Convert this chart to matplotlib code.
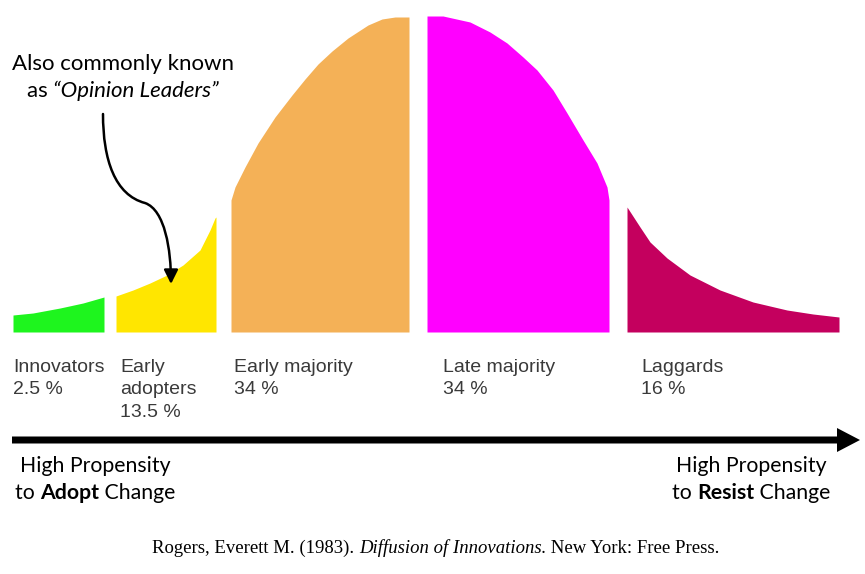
import matplotlib
matplotlib.use("Agg")
import matplotlib.pyplot as plt
from matplotlib.path import Path
from matplotlib.patches import FancyArrowPatch

# Adopter categories (Rogers' diffusion of innovations)
CATEGORIES = [["Innovators"], ["Early", "adopters"], ["Early majority"],
              ["Late majority"], ["Laggards"]]
SHARES = ["2.5 %", "13.5 %", "34 %", "34 %", "16 %"]
COLORS = ["#1EF51E", "#FFE600", "#F4B157", "#FF00FF", "#C4005E"]

# outline of each segment of the bell curve: position along axis, curve height
GREEN_X = [13, 33, 60, 83, 104]
GREEN_H = [17, 19, 24, 29, 35]
YELLOW_X = [116, 133, 150, 167, 183, 200, 210, 215, 216]
YELLOW_H = [36, 42, 49, 57, 67, 82, 102, 114, 115]
ORANGE_X = [231, 235, 245, 258, 275, 292, 305, 318, 332, 348, 368, 382, 395, 409]
ORANGE_H = [132, 145, 165, 189, 215, 237, 253, 268, 281, 294, 307, 313, 315, 315]
MAGENTA_X = [427, 443, 470, 490, 507, 523, 537, 553, 567, 583, 597, 607, 609]
MAGENTA_H = [316, 316, 310, 300, 289, 275, 262, 242, 219, 192, 169, 145, 132]
LAGGARD_X = [627, 640, 650, 667, 690, 720, 753, 787, 813, 839]
LAGGARD_H = [125, 105, 90, 74, 57, 42, 30, 22, 18, 15]

SEGMENTS = [(GREEN_X, GREEN_H), (YELLOW_X, YELLOW_H), (ORANGE_X, ORANGE_H),
            (MAGENTA_X, MAGENTA_H), (LAGGARD_X, LAGGARD_H)]

LABEL_FONT = "Liberation Sans"
NOTE_FONT = "Lato"
CITE_FONT = "Liberation Serif"

fig = plt.figure(figsize=(8.65, 5.74), dpi=100)
ax = fig.add_axes([0, 0, 1, 1])
ax.set_xlim(0, 865)
ax.set_ylim(-242, 332)
ax.axis("off")
renderer = fig.canvas.get_renderer()


def rich_line(xc, y, parts, size, family):
    """Centered line of text made of pieces with their own style."""
    texts = [ax.text(0, y, s, fontsize=size, family=family, va="baseline", **st)
             for s, st in parts]
    widths = [t.get_window_extent(renderer).width for t in texts]
    x = xc - sum(widths) / 2
    for t, w in zip(texts, widths):
        t.set_x(x)
        x += w


# bell curve segments
for (xs, hs), color in zip(SEGMENTS, COLORS):
    ax.fill_between(xs, 0, hs, color=color, linewidth=0)

# category labels, one line each
label_x = [13, 120, 234, 443, 641]
for x, cat, share in zip(label_x, CATEGORIES, SHARES):
    for i, line in enumerate(cat + [share]):
        ax.text(x, -40 - 22.3 * i, line, fontsize=14, family=LABEL_FONT,
                color="#3a3a3a", va="baseline")

# long axis arrow
ax.arrow(12, -108, 848, 0, width=7, head_width=24, head_length=23,
         length_includes_head=True, color="black", linewidth=0)

# propensity notes
rich_line(95, -140, [("High Propensity", {})], 15.3, NOTE_FONT)
rich_line(95, -167, [("to ", {}), ("Adopt", {"weight": "bold"}), (" Change", {})], 15.3, NOTE_FONT)
rich_line(751, -140, [("High Propensity", {})], 15.3, NOTE_FONT)
rich_line(751, -167, [("to ", {}), ("Resist", {"weight": "bold"}), (" Change", {})], 15.3, NOTE_FONT)

# opinion leaders note and pointer
rich_line(123, 262, [("Also commonly known", {})], 16, NOTE_FONT)
rich_line(123, 235, [("as ", {}), ("\u201cOpinion Leaders\u201d", {"style": "italic"})], 16, NOTE_FONT)

verts = [(103, 218), (103, 172), (115, 137), (145, 129),
         (165, 122), (171, 82), (171, 48)]
codes = [Path.MOVETO, Path.CURVE4, Path.CURVE4, Path.CURVE4,
         Path.CURVE4, Path.CURVE4, Path.CURVE4]
pointer = FancyArrowPatch(path=Path(verts, codes),
                          arrowstyle="-|>,head_length=0.6,head_width=0.3",
                          mutation_scale=14, color="black", linewidth=1.8)
ax.add_patch(pointer)

# citation
rich_line(436, -221, [("Rogers, Everett M. (1983). ", {}),
                      ("Diffusion of Innovations.", {"style": "italic"}),
                      (" New York: Free Press.", {})], 13.5, CITE_FONT)

fig.savefig("out.png", dpi=100)
